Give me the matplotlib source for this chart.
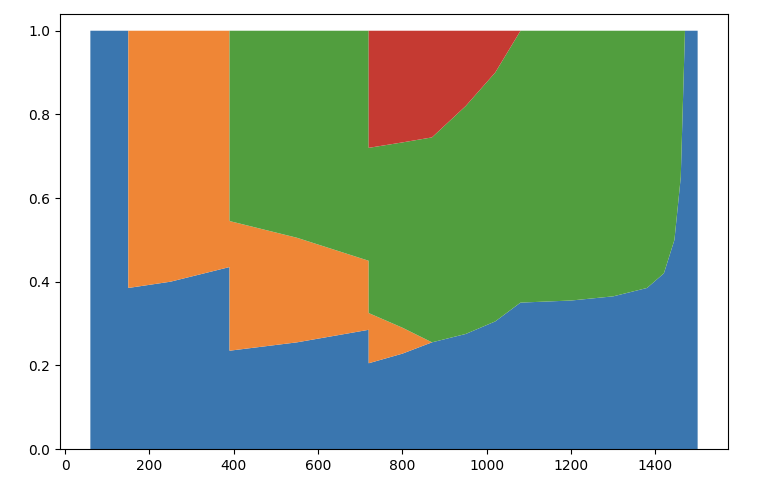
import numpy as np
import matplotlib
matplotlib.use("Agg")
import matplotlib.pyplot as plt

# x positions (duplicated x = vertical jump)
x = [60, 150, 150, 250, 390, 390, 550, 720, 720, 800, 870, 950, 1020, 1080,
     1200, 1300, 1380, 1420, 1445, 1460, 1470, 1500]

# cumulative boundaries (top of each layer)
blue_top = [1, 1, 0.385, 0.40, 0.435, 0.235, 0.255, 0.285, 0.205, 0.228, 0.255,
            0.275, 0.305, 0.35, 0.355, 0.365, 0.385, 0.42, 0.5, 0.65, 1, 1]
orange_top = [1, 1, 1, 1, 1, 0.545, 0.505, 0.45, 0.325, 0.29, 0.255,
              0.275, 0.305, 0.35, 0.355, 0.365, 0.385, 0.42, 0.5, 0.65, 1, 1]
green_top = [1, 1, 1, 1, 1, 1, 1, 1, 0.72, 0.733, 0.745,
             0.82, 0.9, 1, 1, 1, 1, 1, 1, 1, 1, 1]
red_top = [1] * len(x)

b = np.array(blue_top)
o = np.array(orange_top)
g = np.array(green_top)
r = np.array(red_top)

colors = ["#3a76af", "#ef8636", "#519e3e", "#c53a32"]

fig = plt.figure(figsize=(7.68, 4.98), dpi=100)
ax = fig.add_axes([60 / 768, 1 - 449 / 498, 668 / 768, 435 / 498])
ax.stackplot(x, b, o - b, g - o, r - g, colors=colors)
ax.set_xlim(-12, 1572)
ax.set_ylim(0, 1.04)
ax.set_xticks([0, 200, 400, 600, 800, 1000, 1200, 1400])
ax.set_yticks([0, 0.2, 0.4, 0.6, 0.8, 1.0])
fig.savefig("out.png", dpi=100)
